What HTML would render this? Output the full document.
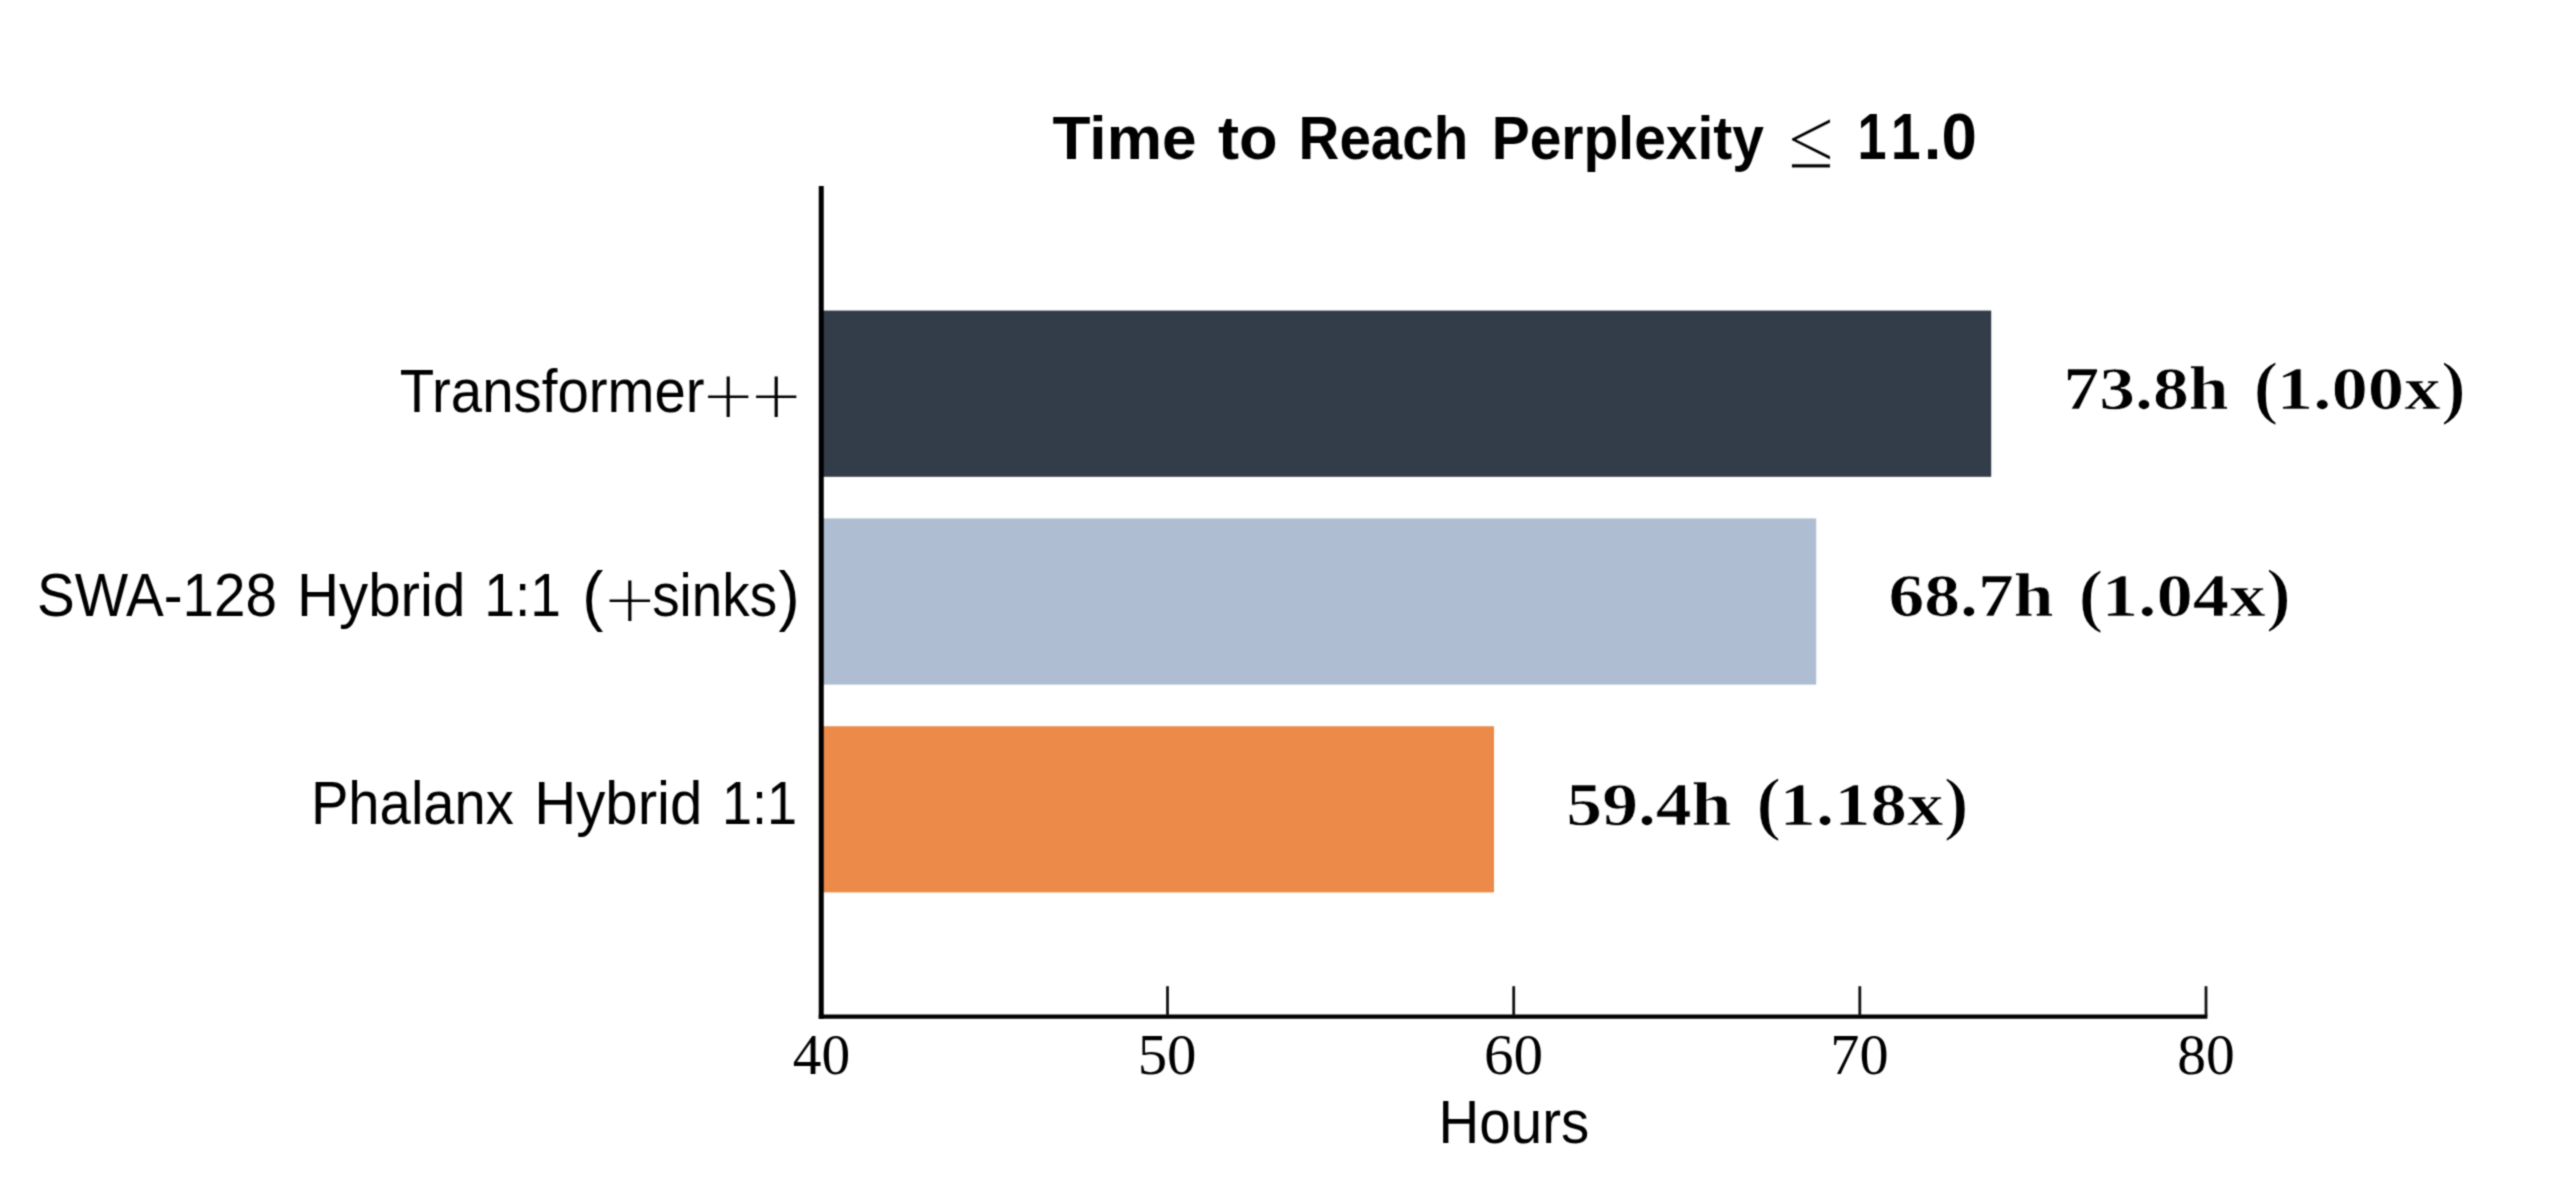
<!DOCTYPE html>
<html lang="en">
<head>
<meta charset="utf-8">
<title>Time to Reach Perplexity ≤ 11.0</title>
<style>
html,body{margin:0;padding:0;background:#ffffff;}
body{width:2572px;height:1192px;overflow:hidden;}
svg{display:block;}
text{fill:#000000;}
.sans{font-family:"Liberation Sans",sans-serif;}
.serif{font-family:"Liberation Serif",serif;}
.thin{font-family:"DejaVu Sans Light","DejaVu Sans","Liberation Sans",sans-serif;font-weight:200;}
.b{font-weight:bold;}
</style>
</head>
<body>
<svg width="2572" height="1192" viewBox="0 0 2572 1192" role="img" aria-label="Horizontal bar chart: time to reach perplexity 11.0">
<defs>
<filter id="soft" x="0" y="0" width="2572" height="1192" filterUnits="userSpaceOnUse" color-interpolation-filters="sRGB">
<feConvolveMatrix order="3" kernelMatrix="0.0400 0.1200 0.0400 0.1200 0.3600 0.1200 0.0400 0.1200 0.0400" divisor="1" edgeMode="duplicate" preserveAlpha="true"/>
</filter>
</defs>
<g filter="url(#soft)">
<rect x="0" y="0" width="2572" height="1192" fill="#ffffff"/>
<g id="bars">
<rect x="821.25" y="310.6" width="1169.95" height="166.2" fill="#333C49"/>
<rect x="821.25" y="518.4" width="994.95" height="166.2" fill="#AEBDD1"/>
<rect x="821.25" y="726.2" width="672.75" height="166.2" fill="#EB8A49"/>
</g>
<g id="axes">
<line x1="821.25" y1="186" x2="821.25" y2="1018.85" stroke="#000" stroke-width="5"/>
<line x1="818.75" y1="1016.7" x2="2207.4" y2="1016.7" stroke="#000" stroke-width="4.3"/>
<line x1="1167.5" y1="986.2" x2="1167.5" y2="1016" stroke="#111" stroke-width="2.8"/>
<line x1="1513.7" y1="986.2" x2="1513.7" y2="1016" stroke="#111" stroke-width="2.8"/>
<line x1="1859.8" y1="986.2" x2="1859.8" y2="1016" stroke="#111" stroke-width="2.8"/>
<line x1="2206.0" y1="986.2" x2="2206.0" y2="1016" stroke="#111" stroke-width="2.8"/>
</g>
<g id="title">
<text class="sans b" font-size="61.50" transform="translate(1052.49 158.80) scale(1.0119 1)">Time</text>
<text class="sans b" font-size="61.50" transform="translate(1218.03 158.80) scale(1.0282 1)">to</text>
<text class="sans b" font-size="61.50" transform="translate(1298.62 158.80) scale(0.9191 1)">Reach</text>
<text class="sans b" font-size="61.50" transform="translate(1491.69 158.80) scale(0.9264 1)">Perplexity</text>
<text class="serif" font-size="86.20" stroke="#ffffff" stroke-width="0.95" transform="translate(1787.64 167.83) scale(0.9707 1)">≤</text>
<text class="sans b" font-size="64.80" transform="translate(1857.61 159.20) scale(0.8060 1)">1</text><text class="sans b" font-size="64.80" transform="translate(1890.96 159.20) scale(0.8192 1)">1</text><text class="sans b" font-size="64.79" transform="translate(1923.78 159.35) scale(0.9820 1)">.0</text>
</g>
<g id="ylab">
<text class="sans" font-size="61.00" transform="translate(399.73 412.10) scale(0.9243 1)">Transformer</text><text class="thin" font-size="63.59" transform="translate(701.17 416.60) scale(1.0126 1)">+</text><text class="thin" font-size="63.59" transform="translate(749.27 416.60) scale(1.0126 1)">+</text>
<text class="sans" font-size="61.60" transform="translate(36.98 616.10) scale(0.9183 1)">SWA-128</text>
<text class="sans" font-size="61.00" transform="translate(296.91 616.10) scale(0.9562 1)">Hybrid</text>
<text class="sans" font-size="61.00" transform="translate(484.29 616.10) scale(0.9047 1)">1:1</text>
<text class="sans" font-size="66.52" transform="translate(582.36 617.63) scale(0.9530 1)">(</text><text class="thin" font-size="64.07" transform="translate(602.64 620.50) scale(1.0100 1)">+</text><text class="sans" font-size="61.00" transform="translate(652.22 616.10) scale(0.8983 1)">sinks</text><text class="sans" font-size="66.52" transform="translate(778.39 617.63) scale(0.9544 1)">)</text>
<text class="sans" font-size="61.00" transform="translate(310.89 824.30) scale(0.9214 1)">Phalanx</text>
<text class="sans" font-size="61.00" transform="translate(534.22 824.30) scale(0.9544 1)">Hybrid</text>
<text class="sans" font-size="61.00" transform="translate(721.98 824.30) scale(0.8865 1)">1:1</text>
</g>
<g id="val">
<text class="serif b" font-size="61.60" stroke="#ffffff" stroke-width="0.74" transform="translate(2063.47 408.50) scale(1.1624 1)">73.8h</text>
<text class="serif b" font-size="72.92" stroke="#ffffff" stroke-width="1.82" transform="translate(2252.88 410.80) scale(1.0677 1)">(</text><text class="serif b" font-size="61.60" stroke="#ffffff" stroke-width="0.74" transform="translate(2276.81 408.50) scale(1.1814 1)">1.00x</text><text class="serif b" font-size="72.77" stroke="#ffffff" stroke-width="1.82" transform="translate(2440.42 410.77) scale(1.0686 1)">)</text>
<text class="serif b" font-size="61.60" stroke="#ffffff" stroke-width="0.74" transform="translate(1888.51 616.20) scale(1.1620 1)">68.7h</text>
<text class="serif b" font-size="72.92" stroke="#ffffff" stroke-width="1.82" transform="translate(2077.88 618.50) scale(1.0677 1)">(</text><text class="serif b" font-size="61.60" stroke="#ffffff" stroke-width="0.74" transform="translate(2101.81 616.20) scale(1.1814 1)">1.04x</text><text class="serif b" font-size="72.77" stroke="#ffffff" stroke-width="1.82" transform="translate(2265.42 618.47) scale(1.0686 1)">)</text>
<text class="serif b" font-size="61.60" stroke="#ffffff" stroke-width="0.74" transform="translate(1566.35 824.60) scale(1.1617 1)">59.4h</text>
<text class="serif b" font-size="72.92" stroke="#ffffff" stroke-width="1.82" transform="translate(1755.68 826.90) scale(1.0677 1)">(</text><text class="serif b" font-size="61.60" stroke="#ffffff" stroke-width="0.74" transform="translate(1779.61 824.60) scale(1.1814 1)">1.18x</text><text class="serif b" font-size="72.77" stroke="#ffffff" stroke-width="1.82" transform="translate(1943.22 826.87) scale(1.0686 1)">)</text>
</g>
<g id="tick">
<text class="serif" font-size="57.75" transform="translate(792.68 1073.62) scale(0.9941 1)">40</text>
<text class="serif" font-size="57.75" transform="translate(1137.66 1073.62) scale(1.0196 1)">50</text>
<text class="serif" font-size="57.75" transform="translate(1484.06 1073.62) scale(1.0233 1)">60</text>
<text class="serif" font-size="57.75" transform="translate(1830.25 1073.62) scale(1.0090 1)">70</text>
<text class="serif" font-size="57.75" transform="translate(2177.20 1073.62) scale(0.9955 1)">80</text>
</g>
<g id="xlab">
<text class="sans" font-size="61.00" transform="translate(1438.56 1142.80) scale(0.9261 1)">Hours</text>
</g>
</g>
</svg>
</body>
</html>
